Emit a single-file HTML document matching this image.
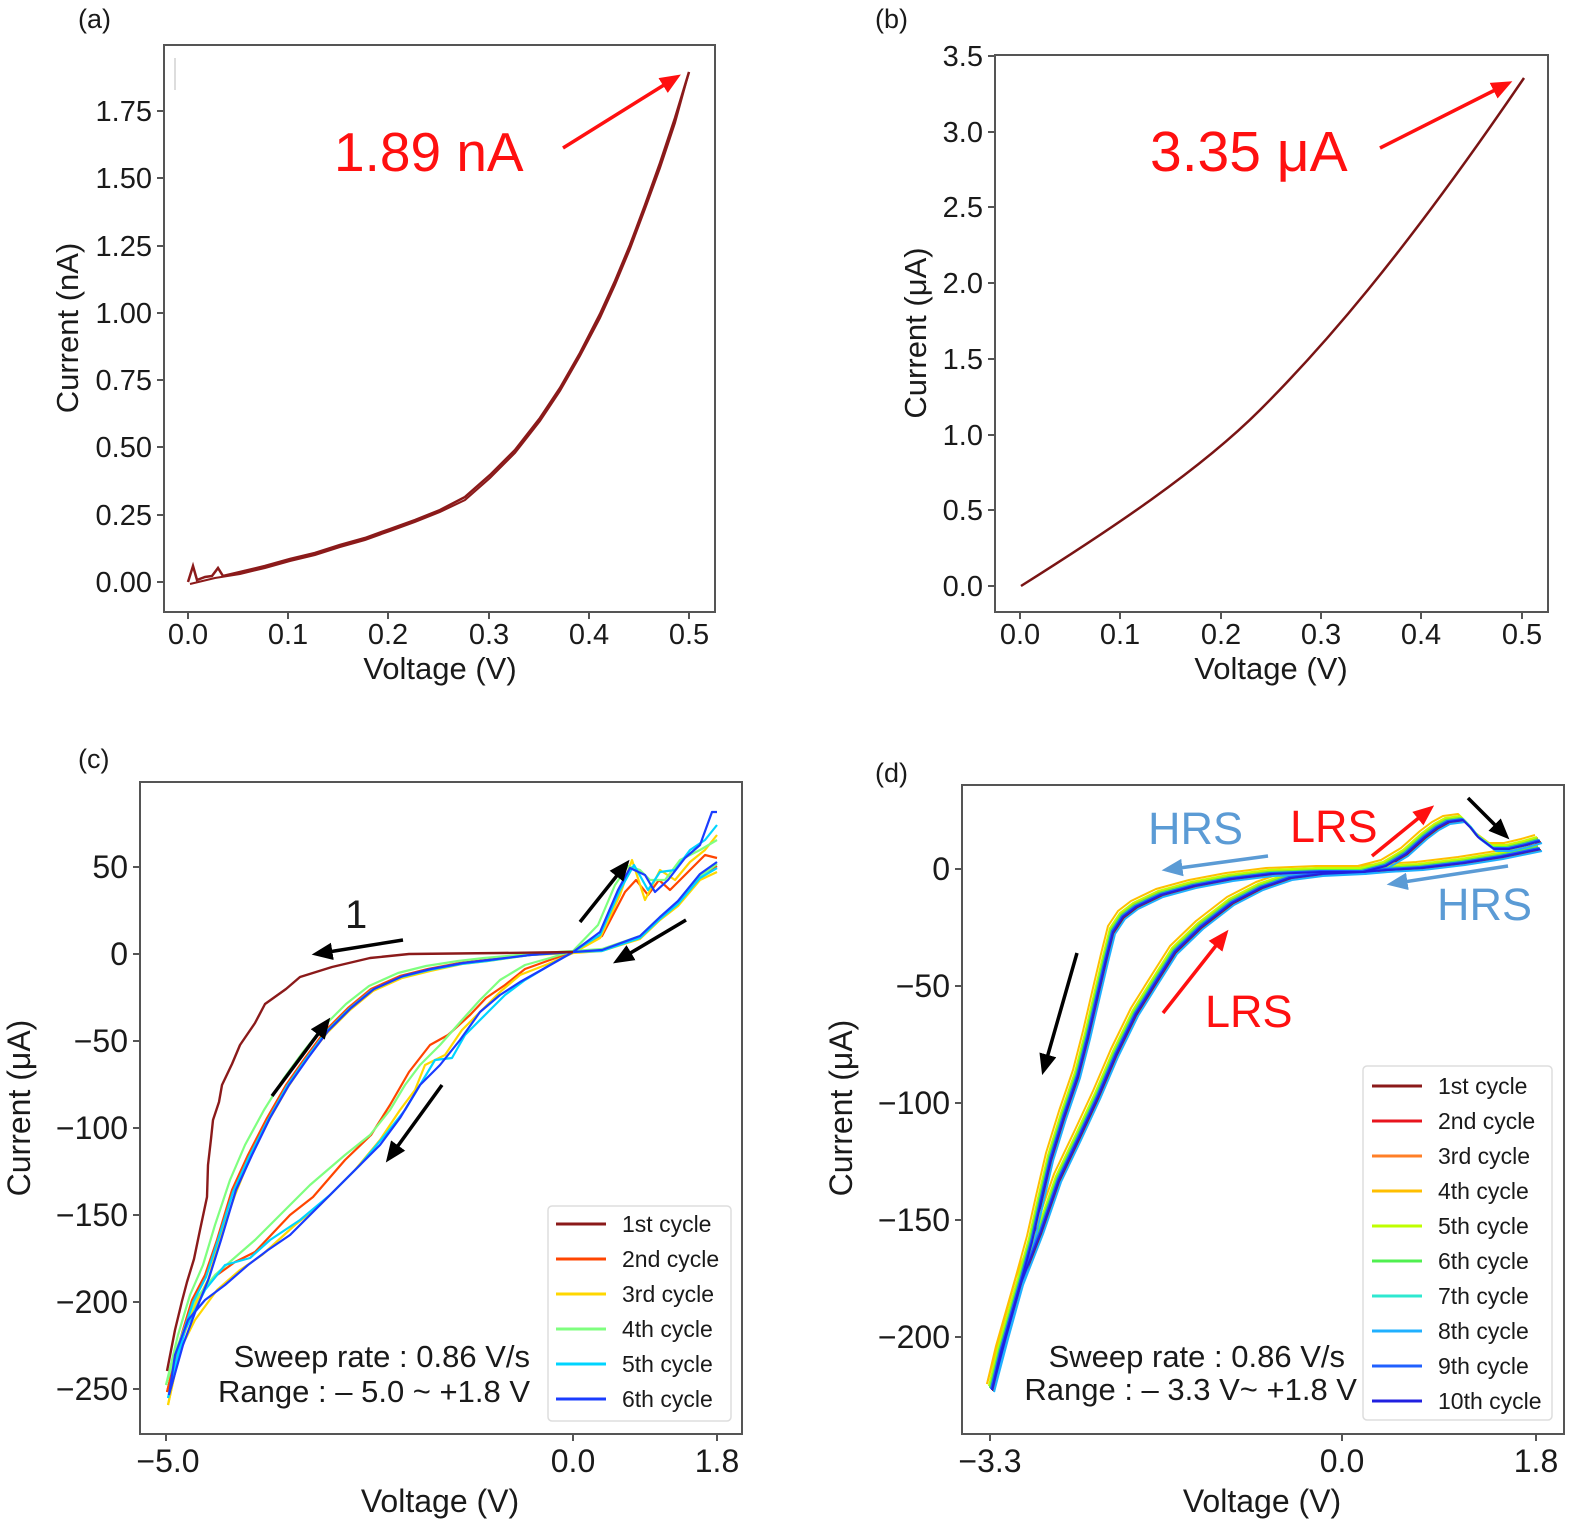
<!DOCTYPE html>
<html><head><meta charset="utf-8"><style>
html,body{margin:0;padding:0;background:#fff}
svg{display:block}
text{font-family:"Liberation Sans",sans-serif;fill:#1a1a1a}
.t{font-size:29px}
.lab{font-size:31px}
.lg{font-size:23px}
</style></head><body>
<svg width="1570" height="1525" viewBox="0 0 1570 1525" xmlns="http://www.w3.org/2000/svg">
<defs>
<marker id="ak" markerWidth="6" markerHeight="6" refX="3" refY="3" orient="auto" markerUnits="strokeWidth"><path d="M0,0.5 L6,3 L0,5.5 z" fill="#000"/></marker>
<marker id="ar" markerWidth="6" markerHeight="6" refX="3" refY="3" orient="auto" markerUnits="strokeWidth"><path d="M0,0.5 L6,3 L0,5.5 z" fill="#ff1010"/></marker>
<marker id="ab" markerWidth="6" markerHeight="6" refX="3" refY="3" orient="auto" markerUnits="strokeWidth"><path d="M0,0.5 L6,3 L0,5.5 z" fill="#5b9bd5"/></marker>
</defs>

<text x="78" y="28" class="t" style="font-size:27px">(a)</text>
<text x="875" y="28" class="t" style="font-size:27px">(b)</text>
<text x="78" y="768" class="t" style="font-size:27px">(c)</text>
<text x="875" y="782" class="t" style="font-size:27px">(d)</text>

<!-- ============ (a) ============ -->
<rect x="164" y="45" width="551" height="567" fill="none" stroke="#555" stroke-width="2"/>
<g stroke="#555" stroke-width="2">
<line x1="157" y1="582" x2="164" y2="582"/><line x1="157" y1="515" x2="164" y2="515"/><line x1="157" y1="447" x2="164" y2="447"/><line x1="157" y1="380" x2="164" y2="380"/><line x1="157" y1="313" x2="164" y2="313"/><line x1="157" y1="246" x2="164" y2="246"/><line x1="157" y1="178" x2="164" y2="178"/><line x1="157" y1="111" x2="164" y2="111"/>
<line x1="188" y1="612" x2="188" y2="619"/><line x1="288" y1="612" x2="288" y2="619"/><line x1="388" y1="612" x2="388" y2="619"/><line x1="489" y1="612" x2="489" y2="619"/><line x1="589" y1="612" x2="589" y2="619"/><line x1="689" y1="612" x2="689" y2="619"/>
</g>
<g class="t" text-anchor="end">
<text x="152" y="592">0.00</text><text x="152" y="525">0.25</text><text x="152" y="457">0.50</text><text x="152" y="390">0.75</text><text x="152" y="323">1.00</text><text x="152" y="256">1.25</text><text x="152" y="188">1.50</text><text x="152" y="121">1.75</text>
</g>
<g class="t" text-anchor="middle">
<text x="188" y="644">0.0</text><text x="288" y="644">0.1</text><text x="388" y="644">0.2</text><text x="489" y="644">0.3</text><text x="589" y="644">0.4</text><text x="689" y="644">0.5</text>
</g>
<text x="440" y="679" class="lab" text-anchor="middle">Voltage (V)</text>
<text transform="translate(78,328) rotate(-90)" class="lab" text-anchor="middle">Current (nA)</text>
<line x1="175" y1="58" x2="175" y2="90" stroke="#ddd" stroke-width="2"/>
<polyline fill="none" stroke="#8b1a1a" stroke-width="2.5" points="188,582 193,566 197,580 205,577 212,576 218,568 223,576 240,572 265,566 290,559 315,553 340,545 365,538 390,529 415,520 440,510 465,497 490,475 515,450 540,418 560,388 580,353 600,314 615,281 630,245 645,205 660,163 675,118 689,72"/>
<polyline fill="none" stroke="#8b1a1a" stroke-width="2" points="190,584 215,578 240,574 265,568 290,561 315,555 340,547 365,540 390,531 415,522 440,512 465,500 490,478 515,453 540,421 560,391 580,356 600,318 615,285 630,249 645,209 660,168 675,123 689,72"/>
<text x="334" y="171" style="font-size:55px;fill:#ff1010">1.89 nA</text>
<line x1="563" y1="148" x2="672" y2="80" stroke="#ff1010" stroke-width="3.5" marker-end="url(#ar)"/>

<!-- ============ (b) ============ -->
<rect x="995" y="55" width="553" height="557" fill="none" stroke="#555" stroke-width="2"/>
<g stroke="#555" stroke-width="2">
<line x1="988" y1="586" x2="995" y2="586"/><line x1="988" y1="510" x2="995" y2="510"/><line x1="988" y1="435" x2="995" y2="435"/><line x1="988" y1="359" x2="995" y2="359"/><line x1="988" y1="283" x2="995" y2="283"/><line x1="988" y1="207" x2="995" y2="207"/><line x1="988" y1="132" x2="995" y2="132"/><line x1="988" y1="56" x2="995" y2="56"/>
<line x1="1020" y1="612" x2="1020" y2="619"/><line x1="1120" y1="612" x2="1120" y2="619"/><line x1="1221" y1="612" x2="1221" y2="619"/><line x1="1321" y1="612" x2="1321" y2="619"/><line x1="1421" y1="612" x2="1421" y2="619"/><line x1="1522" y1="612" x2="1522" y2="619"/>
</g>
<g class="t" text-anchor="end">
<text x="983" y="596">0.0</text><text x="983" y="520">0.5</text><text x="983" y="445">1.0</text><text x="983" y="369">1.5</text><text x="983" y="293">2.0</text><text x="983" y="217">2.5</text><text x="983" y="142">3.0</text><text x="983" y="66">3.5</text>
</g>
<g class="t" text-anchor="middle">
<text x="1020" y="644">0.0</text><text x="1120" y="644">0.1</text><text x="1221" y="644">0.2</text><text x="1321" y="644">0.3</text><text x="1421" y="644">0.4</text><text x="1522" y="644">0.5</text>
</g>
<text x="1271" y="679" class="lab" text-anchor="middle">Voltage (V)</text>
<text transform="translate(926,333) rotate(-90)" class="lab" text-anchor="middle">Current (μA)</text>
<path fill="none" stroke="#7a1414" stroke-width="2.5" d="M1021,586 C1110,530 1200,470 1260,410 S1400,260 1524,78"/>
<text x="1150" y="171" style="font-size:57px;fill:#ff1010">3.35 μA</text>
<line x1="1380" y1="148" x2="1503" y2="86" stroke="#ff1010" stroke-width="3.5" marker-end="url(#ar)"/>

<!-- ============ (c) ============ -->
<rect x="140" y="782" width="602" height="652" fill="none" stroke="#555" stroke-width="2"/>
<g stroke="#555" stroke-width="2">
<line x1="133" y1="867" x2="140" y2="867"/><line x1="133" y1="954" x2="140" y2="954"/><line x1="133" y1="1041" x2="140" y2="1041"/><line x1="133" y1="1128" x2="140" y2="1128"/><line x1="133" y1="1215" x2="140" y2="1215"/><line x1="133" y1="1302" x2="140" y2="1302"/><line x1="133" y1="1389" x2="140" y2="1389"/>
<line x1="166" y1="1434" x2="166" y2="1441"/><line x1="573" y1="1434" x2="573" y2="1441"/><line x1="717" y1="1434" x2="717" y2="1441"/>
</g>
<g class="t" text-anchor="end" style="font-size:32px">
<text x="128" y="878">50</text><text x="128" y="965">0</text><text x="128" y="1052">−50</text><text x="128" y="1139">−100</text><text x="128" y="1226">−150</text><text x="128" y="1313">−200</text><text x="128" y="1400">−250</text>
</g>
<g class="t" text-anchor="middle" style="font-size:32px">
<text x="168" y="1472">−5.0</text><text x="573" y="1472">0.0</text><text x="717" y="1472">1.8</text>
</g>
<text x="440" y="1512" class="lab" text-anchor="middle" style="font-size:32px">Voltage (V)</text>
<text transform="translate(30,1108) rotate(-90)" class="lab" text-anchor="middle" style="font-size:32px">Current (μA)</text>

<g fill="none" stroke-width="2.2" stroke-linejoin="round">
<g stroke="#ff4500">
<polyline points="167,1392 180,1340 192,1300 205,1275 217,1240 232,1190 248,1155 267,1118 286,1085 305,1058 325,1031 348,1008 371,989 400,976 428,969 460,963 486,960 530,955 573,952 602,936 625,892 636,880 648,895 659,880 670,890 690,870 705,855 717,858"/>
<polyline points="717,866 700,876 678,903 660,918 640,937 602,950 573,952 550,960 525,969 505,985 486,998 470,1015 448,1035 430,1045 409,1072 390,1105 371,1135 345,1160 313,1197 290,1215 255,1252 235,1262 217,1275 195,1300 180,1340 167,1392"/>
</g>
<g stroke="#ffd700">
<polyline points="168,1405 182,1340 195,1305 208,1280 220,1238 235,1195 250,1158 269,1120 288,1087 306,1060 327,1033 350,1010 373,991 402,978 430,971 462,964 488,961 530,955 573,953 600,938 620,895 632,860 645,900 660,870 675,880 690,862 705,850 717,835"/>
<polyline points="717,872 700,880 678,906 660,920 640,939 602,951 573,953 548,964 520,975 500,992 480,1012 462,1030 445,1055 425,1065 415,1090 400,1110 380,1140 355,1170 320,1205 295,1225 262,1255 240,1270 217,1290 195,1320 180,1350 168,1405"/>
</g>
<g stroke="#7fff7f">
<polyline points="166,1385 178,1335 190,1295 203,1265 215,1225 230,1180 245,1145 264,1110 284,1078 303,1052 323,1027 346,1004 369,986 398,973 426,966 458,961 484,958 530,954 573,951 598,925 615,885 628,866 640,870 650,880 665,880 680,860 700,850 717,840"/>
<polyline points="717,864 698,878 676,904 660,917 640,936 602,949 573,951 550,958 525,965 500,980 480,1000 462,1020 440,1045 420,1065 405,1085 390,1110 370,1135 345,1155 310,1185 285,1210 255,1240 232,1260 215,1275 195,1300 178,1345 166,1385"/>
</g>
<g stroke="#00d4ff">
<polyline points="168,1398 181,1340 193,1302 206,1277 218,1240 233,1192 249,1157 268,1120 287,1086 306,1059 326,1032 349,1009 372,990 401,977 429,970 461,964 487,961 530,955 573,952 600,935 620,890 634,865 648,890 660,872 675,870 690,850 705,840 717,825"/>
<polyline points="717,868 700,878 678,904 660,919 640,938 602,951 573,952 550,965 525,980 505,995 485,1015 465,1035 452,1058 435,1060 420,1085 405,1110 385,1135 360,1165 330,1195 300,1220 270,1240 250,1258 225,1265 205,1290 185,1330 168,1398"/>
</g>
<g stroke="#1a3cff">
<polyline points="169,1395 183,1345 196,1310 209,1278 221,1240 236,1190 252,1155 270,1118 289,1085 308,1058 328,1031 351,1008 374,989 403,976 431,969 463,963 489,960 530,955 573,952 600,932 618,890 630,868 645,875 655,892 668,880 685,858 700,845 712,812 717,812"/>
<polyline points="717,862 700,874 678,901 660,917 640,936 602,950 573,952 545,968 520,982 500,995 480,1012 460,1040 440,1065 420,1085 400,1118 380,1145 350,1175 320,1205 290,1235 268,1250 248,1265 225,1285 205,1300 188,1320 175,1355 169,1395"/>
</g>
<polyline stroke="#8b1a1a" stroke-width="2.4" points="573,952 500,953 409,954 370,958 332,967 300,977 286,989 265,1004 255,1023 240,1045 232,1064 222,1085 219,1102 213,1120 211,1139 208,1165 207,1197 200,1230 194,1259 187,1282 182,1301 175,1330 167,1371"/>
</g>
<g stroke="#000" stroke-width="3.5">
<line x1="403" y1="940" x2="322" y2="953" marker-end="url(#ak)"/>
<line x1="580" y1="922" x2="623" y2="868" marker-end="url(#ak)"/>
<line x1="686" y1="920" x2="622" y2="958" marker-end="url(#ak)"/>
<line x1="272" y1="1096" x2="324" y2="1026" marker-end="url(#ak)"/>
<line x1="442" y1="1085" x2="392" y2="1154" marker-end="url(#ak)"/>
</g>
<text x="345" y="928" style="font-size:40px">1</text>
<text x="530" y="1367" text-anchor="end" style="font-size:31px">Sweep rate : 0.86 V/s</text>
<text x="530" y="1402" text-anchor="end" style="font-size:31px">Range : – 5.0 ~ +1.8 V</text>
<rect x="548" y="1206" width="183" height="215" rx="4" fill="#fff" fill-opacity="0.85" stroke="#ddd" stroke-width="1.5"/>
<g stroke-width="3">
<line x1="556" y1="1224" x2="606" y2="1224" stroke="#8b1a1a"/>
<line x1="556" y1="1259" x2="606" y2="1259" stroke="#ff4500"/>
<line x1="556" y1="1294" x2="606" y2="1294" stroke="#ffd700"/>
<line x1="556" y1="1329" x2="606" y2="1329" stroke="#7fff7f"/>
<line x1="556" y1="1364" x2="606" y2="1364" stroke="#00d4ff"/>
<line x1="556" y1="1399" x2="606" y2="1399" stroke="#1a3cff"/>
</g>
<g class="lg">
<text x="622" y="1232">1st cycle</text><text x="622" y="1267">2nd cycle</text><text x="622" y="1302">3rd cycle</text><text x="622" y="1337">4th cycle</text><text x="622" y="1372">5th cycle</text><text x="622" y="1407">6th cycle</text>
</g>

<!-- ============ (d) ============ -->
<rect x="962" y="785" width="602" height="649" fill="none" stroke="#555" stroke-width="2"/>
<g stroke="#555" stroke-width="2">
<line x1="955" y1="869" x2="962" y2="869"/><line x1="955" y1="986" x2="962" y2="986"/><line x1="955" y1="1103" x2="962" y2="1103"/><line x1="955" y1="1220" x2="962" y2="1220"/><line x1="955" y1="1337" x2="962" y2="1337"/>
<line x1="990" y1="1434" x2="990" y2="1441"/><line x1="1342" y1="1434" x2="1342" y2="1441"/><line x1="1536" y1="1434" x2="1536" y2="1441"/>
</g>
<g class="t" text-anchor="end" style="font-size:32px">
<text x="950" y="880">0</text><text x="950" y="997">−50</text><text x="950" y="1114">−100</text><text x="950" y="1231">−150</text><text x="950" y="1348">−200</text>
</g>
<g class="t" text-anchor="middle" style="font-size:32px">
<text x="990" y="1472">−3.3</text><text x="1342" y="1472">0.0</text><text x="1536" y="1472">1.8</text>
</g>
<text x="1262" y="1512" class="lab" text-anchor="middle" style="font-size:32px">Voltage (V)</text>
<text transform="translate(852,1108) rotate(-90)" class="lab" text-anchor="middle" style="font-size:32px">Current (μA)</text>

<g fill="none" stroke-width="2" stroke-linejoin="round">
<g id="dc">
<polyline points="991,1388 1000,1350 1008,1322 1020,1280 1031,1240 1040,1200 1050,1157 1063,1115 1077,1074 1087,1035 1097,992 1105,958 1112,930 1122,915 1135,905 1160,893 1193,884 1230,877 1270,872 1320,870 1362,870 1385,864 1405,852 1424,835 1436,826 1447,820 1462,818 1470,826 1477,835 1493,847 1508,847 1525,843 1539,839"/>
<polyline points="1539,847 1500,855 1462,861 1420,866 1385,868 1362,870 1320,872 1289,876 1260,886 1231,901 1200,925 1174,950 1155,980 1135,1012 1115,1053 1097,1095 1078,1136 1058,1178 1040,1230 1020,1281 1005,1335 991,1388"/>
</g>
<use href="#dc" stroke="#8b1a1a" transform="translate(2,3)"/>
<use href="#dc" stroke="#e8141e" transform="translate(1,2)"/>
<use href="#dc" stroke="#ff7f27" transform="translate(-1,-1)"/>
<use href="#dc" stroke="#ffbf00" transform="translate(-4,-4)"/>
<use href="#dc" stroke="#bfff00" transform="translate(-2,-2)"/>
<use href="#dc" stroke="#50f050" transform="translate(-1,0)"/>
<use href="#dc" stroke="#2fe8d0" transform="translate(1,1)"/>
<use href="#dc" stroke="#20b0ff" transform="translate(3,4)"/>
<use href="#dc" stroke="#2060ff" transform="translate(0,1)"/>
<use href="#dc" stroke="#2020e0" transform="translate(1,2)"/>
</g>
<g stroke-width="3.5">
<line x1="1268" y1="856" x2="1172" y2="869" stroke="#5b9bd5" marker-end="url(#ab)"/>
<line x1="1508" y1="866" x2="1397" y2="883" stroke="#5b9bd5" marker-end="url(#ab)"/>
<line x1="1372" y1="856" x2="1426" y2="812" stroke="#ff1010" marker-end="url(#ar)"/>
<line x1="1163" y1="1013" x2="1222" y2="938" stroke="#ff1010" marker-end="url(#ar)"/>
<line x1="1468" y1="798" x2="1502" y2="832" stroke="#000" marker-end="url(#ak)"/>
<line x1="1077" y1="953" x2="1045" y2="1065" stroke="#000" marker-end="url(#ak)"/>
</g>
<text x="1148" y="844" style="font-size:45px;fill:#5b9bd5">HRS</text>
<text x="1290" y="842" style="font-size:45px;fill:#ff1010">LRS</text>
<text x="1437" y="920" style="font-size:45px;fill:#5b9bd5">HRS</text>
<text x="1205" y="1027" style="font-size:45px;fill:#ff1010">LRS</text>
<text x="1345" y="1367" text-anchor="end" style="font-size:31px">Sweep rate : 0.86 V/s</text>
<text x="1357" y="1400" text-anchor="end" style="font-size:31px">Range : – 3.3 V~ +1.8 V</text>
<rect x="1363" y="1066" width="189" height="354" rx="4" fill="#fff" fill-opacity="0.85" stroke="#ddd" stroke-width="1.5"/>
<g stroke-width="3">
<line x1="1372" y1="1086" x2="1422" y2="1086" stroke="#8b1a1a"/>
<line x1="1372" y1="1121" x2="1422" y2="1121" stroke="#e8141e"/>
<line x1="1372" y1="1156" x2="1422" y2="1156" stroke="#ff7f27"/>
<line x1="1372" y1="1191" x2="1422" y2="1191" stroke="#ffbf00"/>
<line x1="1372" y1="1226" x2="1422" y2="1226" stroke="#bfff00"/>
<line x1="1372" y1="1261" x2="1422" y2="1261" stroke="#50f050"/>
<line x1="1372" y1="1296" x2="1422" y2="1296" stroke="#2fe8d0"/>
<line x1="1372" y1="1331" x2="1422" y2="1331" stroke="#20b0ff"/>
<line x1="1372" y1="1366" x2="1422" y2="1366" stroke="#2060ff"/>
<line x1="1372" y1="1401" x2="1422" y2="1401" stroke="#2020e0"/>
</g>
<g class="lg">
<text x="1438" y="1094">1st cycle</text><text x="1438" y="1129">2nd cycle</text><text x="1438" y="1164">3rd cycle</text><text x="1438" y="1199">4th cycle</text><text x="1438" y="1234">5th cycle</text><text x="1438" y="1269">6th cycle</text><text x="1438" y="1304">7th cycle</text><text x="1438" y="1339">8th cycle</text><text x="1438" y="1374">9th cycle</text><text x="1438" y="1409">10th cycle</text>
</g>
</svg>
</body></html>
